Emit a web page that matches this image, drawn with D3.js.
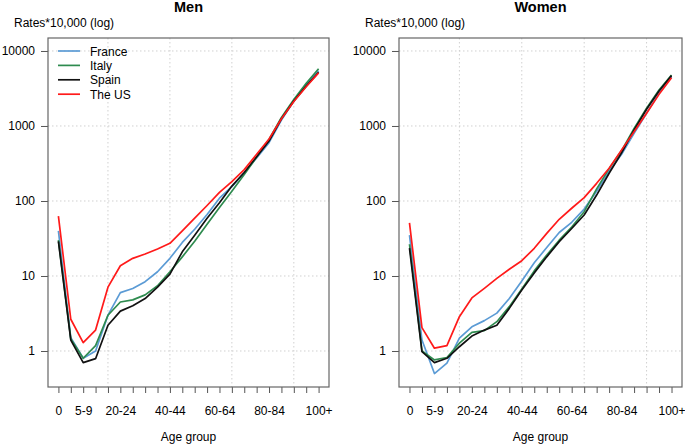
<!DOCTYPE html>
<html>
<head>
<meta charset="utf-8">
<script src="https://cdnjs.cloudflare.com/ajax/libs/d3/7.8.5/d3.min.js"></script>
<style>
  body { margin: 0; background: #fff; }
  svg { font-family: "Liberation Sans", Arial, sans-serif; }
  .grid line { stroke: #d0d0d0; stroke-dasharray: 1.5,2.5; }
  .axis text { font-size: 12px; fill: #000; }
  .axis line { stroke: #555; }
  .line { fill: none; stroke-width: 1.7; stroke-linejoin: round; }
</style>
</head>
<body>
<svg width="685" height="445"></svg>
<script>
// age groups on the x axis (one point per group)
var ageGroups = ["0","1-4","5-9","10-14","15-19","20-24","25-29","30-34","35-39","40-44",
  "45-49","50-54","55-59","60-64","65-69","70-74","75-79","80-84","85-89","90-94","95-99","100+"];
// labels R kept after dropping the overlapping ones
var shownLabels = ["0","5-9","20-24","40-44","60-64","80-84","100+"];
var yTicks = [1, 10, 100, 1000, 10000];

var countries = ["France", "Italy", "Spain", "The US"];
var colors = ["#5b9bd5", "#2e8b4f", "#111111", "#ff1a1a"];

// rates * 10,000
var menFrance = [40, 1.5, 0.8, 1.0, 3.0, 6.0, 6.8, 8.4, 11.4, 17.2, 28, 42, 66, 109, 155, 240, 375, 600, 1200, 2150, 3500, 5450];
var menItaly  = [30, 1.45, 0.8, 1.18, 3.0, 4.5, 4.8, 5.6, 7.4, 11.4, 18, 29, 49, 82, 135, 225, 385, 660, 1300, 2250, 3700, 5800];
var menSpain  = [29, 1.4, 0.7, 0.79, 2.2, 3.4, 4.0, 5.0, 7.1, 10.6, 21, 35, 59, 95, 158, 240, 390, 630, 1250, 2150, 3400, 5200];
var menUS     = [63, 2.65, 1.29, 1.9, 7.1, 13.7, 17.2, 19.6, 22.9, 27.3, 40, 59, 87, 130, 181, 262, 420, 670, 1250, 2120, 3340, 5100];

var womenFrance = [35, 1.4, 0.5, 0.69, 1.48, 2.1, 2.54, 3.2, 5.0, 8.6, 15, 24, 38, 52, 78, 135, 250, 420, 800, 1480, 2730, 4550];
var womenItaly  = [26.5, 1.0, 0.76, 0.82, 1.27, 1.77, 1.87, 2.46, 3.9, 6.7, 11.7, 19, 30, 45, 72, 145, 270, 470, 930, 1720, 3020, 4790];
var womenSpain  = [23.5, 0.98, 0.70, 0.8, 1.14, 1.58, 1.9, 2.2, 3.7, 6.5, 11, 18, 28.7, 43, 65, 120, 234, 440, 885, 1670, 2930, 4690];
var womenUS     = [51, 2.05, 1.09, 1.18, 2.87, 5.1, 6.85, 9.3, 12.3, 16, 23.4, 37, 57, 80, 111, 172, 273, 480, 840, 1480, 2640, 4400];

var plotTop = 38, plotBottom = 387;
var svg = d3.select("svg");

function drawPanel(left, right, title, series, withLegend) {
  var n = ageGroups.length;
  var pad = (n - 1) * 0.04;
  var xScale = d3.scaleLinear().domain([-pad, n - 1 + pad]).range([left, right]);
  var yScale = d3.scaleLog().domain([Math.pow(10, -0.48), Math.pow(10, 4.173)]).range([plotBottom, plotTop]);

  var g = svg.append("g");

  // dotted grid
  var grid = g.append("g").attr("class", "grid");
  grid.selectAll(".gx").data([4, 9, 14, 19]).enter().append("line")
    .attr("x1", d => xScale(d)).attr("x2", d => xScale(d))
    .attr("y1", plotTop).attr("y2", plotBottom);
  grid.selectAll(".gy").data(yTicks).enter().append("line")
    .attr("x1", left).attr("x2", right)
    .attr("y1", d => yScale(d)).attr("y2", d => yScale(d));

  // axes
  var xAxis = g.append("g")
    .attr("class", "axis")
    .attr("transform", "translate(0," + plotBottom + ")")
    .call(d3.axisBottom(xScale)
      .tickValues(d3.range(n))
      .tickSize(6)
      .tickPadding(13)
      .tickFormat(i => shownLabels.indexOf(ageGroups[i]) >= 0 ? ageGroups[i] : ""));
  xAxis.select(".domain").remove();

  var yAxis = g.append("g")
    .attr("class", "axis")
    .attr("transform", "translate(" + left + ",0)")
    .call(d3.axisLeft(yScale).tickValues(yTicks).tickSize(7).tickPadding(6).tickFormat(d3.format("d")));
  yAxis.select(".domain").remove();

  // lines
  var line = d3.line()
    .x((d, i) => xScale(i))
    .y(d => yScale(d));
  series.forEach(function (vals, k) {
    g.append("path")
      .datum(vals)
      .attr("class", "line")
      .attr("stroke", colors[k])
      .attr("d", line);
  });

  // box
  g.append("rect")
    .attr("x", left).attr("y", plotTop)
    .attr("width", right - left).attr("height", plotBottom - plotTop)
    .attr("fill", "none").attr("stroke", "#666").attr("stroke-width", 1.2);

  // texts
  g.append("text")
    .attr("x", (left + right) / 2).attr("y", 12)
    .attr("text-anchor", "middle")
    .style("font-size", "14.5px").style("font-weight", "bold")
    .text(title);
  g.append("text")
    .attr("x", left - 34).attr("y", 27)
    .style("font-size", "12px")
    .text("Rates*10,000 (log)");
  g.append("text")
    .attr("x", (left + right) / 2).attr("y", 441)
    .attr("text-anchor", "middle")
    .style("font-size", "12px")
    .text("Age group");

  if (withLegend) {
    var leg = g.append("g");
    countries.forEach(function (c, k) {
      var y = 51 + k * 14.4;
      leg.append("line")
        .attr("x1", left + 10).attr("x2", left + 32)
        .attr("y1", y).attr("y2", y)
        .attr("stroke", colors[k]).attr("stroke-width", 1.7);
      leg.append("text")
        .attr("x", left + 42).attr("y", y + 4.5)
        .style("font-size", "12px")
        .text(c);
    });
  }
}

drawPanel(48, 329, "Men", [menFrance, menItaly, menSpain, menUS], true);
drawPanel(399, 682, "Women", [womenFrance, womenItaly, womenSpain, womenUS], false);
</script>
</body>
</html>
